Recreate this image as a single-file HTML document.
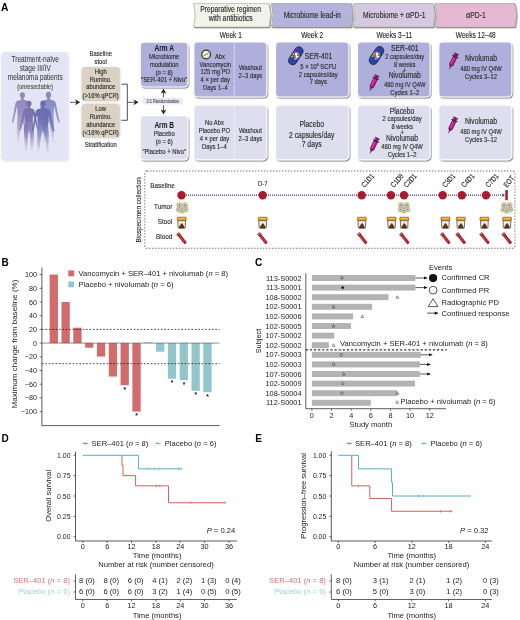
<!DOCTYPE html>
<html lang="en"><head><meta charset="utf-8"><title>Figure</title>
<style>html,body{margin:0;padding:0;background:#fff}svg{display:block}</style></head>
<body>
<svg width="520" height="620" viewBox="0 0 520 620" font-family='"Liberation Sans", Arial, Helvetica, sans-serif'>
<defs>
<filter id="sh" x="-10%" y="-15%" width="125%" height="140%"><feDropShadow dx="0.8" dy="1.1" stdDeviation="0.55" flood-color="#5a5548" flood-opacity="0.7" result="a"/><feDropShadow in="SourceGraphic" dx="0" dy="0" stdDeviation="0.7" flood-color="#5a5548" flood-opacity="0.4" result="b"/><feMerge><feMergeNode in="b"/><feMergeNode in="a"/></feMerge></filter>
<filter id="sh2" x="-10%" y="-10%" width="125%" height="130%"><feDropShadow dx="0.3" dy="0.5" stdDeviation="0.8" flood-color="#8888aa" flood-opacity="0.35"/></filter>
<linearGradient id="fade" x1="0" y1="0" x2="0" y2="1"><stop offset="0" stop-color="#fff" stop-opacity="1"/><stop offset="0.3" stop-color="#fff" stop-opacity="0.95"/><stop offset="0.6" stop-color="#fff" stop-opacity="0.7"/><stop offset="0.93" stop-color="#fff" stop-opacity="0"/></linearGradient>
<mask id="fm" maskUnits="userSpaceOnUse" x="0" y="85" width="75" height="80"><rect x="0" y="85" width="75" height="75" fill="url(#fade)"/></mask>
<marker id="ah" viewBox="0 0 10 10" refX="9" refY="5" markerUnits="userSpaceOnUse" markerWidth="5.2" markerHeight="6.0" orient="auto" preserveAspectRatio="none"><path d="M0,0 L10,5 L0,10 L3.2,5 Z" fill="#222"/></marker>
<marker id="ah2" viewBox="0 0 10 10" refX="9.5" refY="5" markerUnits="userSpaceOnUse" markerWidth="4.0" markerHeight="3.5" orient="auto"><path d="M0,0.5 L10,5 L0,9.5 Z" fill="#111"/></marker>
<linearGradient id="pg0" gradientUnits="userSpaceOnUse" x1="0" y1="0" x2="0" y2="54"><stop offset="0" stop-color="#9189bb" stop-opacity="1"/><stop offset="0.33" stop-color="#9189bb" stop-opacity="0.95"/><stop offset="0.62" stop-color="#9189bb" stop-opacity="0.68"/><stop offset="0.97" stop-color="#9189bb" stop-opacity="0"/></linearGradient>
<linearGradient id="pg1" gradientUnits="userSpaceOnUse" x1="0" y1="0" x2="0" y2="54"><stop offset="0" stop-color="#858cc0" stop-opacity="1"/><stop offset="0.33" stop-color="#858cc0" stop-opacity="0.95"/><stop offset="0.62" stop-color="#858cc0" stop-opacity="0.68"/><stop offset="0.97" stop-color="#858cc0" stop-opacity="0"/></linearGradient>
<linearGradient id="pg2" gradientUnits="userSpaceOnUse" x1="0" y1="0" x2="0" y2="54"><stop offset="0" stop-color="#7d6fab" stop-opacity="1"/><stop offset="0.33" stop-color="#7d6fab" stop-opacity="0.95"/><stop offset="0.62" stop-color="#7d6fab" stop-opacity="0.68"/><stop offset="0.97" stop-color="#7d6fab" stop-opacity="0"/></linearGradient>
<linearGradient id="pg3" gradientUnits="userSpaceOnUse" x1="0" y1="0" x2="0" y2="54"><stop offset="0" stop-color="#676db0" stop-opacity="1"/><stop offset="0.33" stop-color="#676db0" stop-opacity="0.95"/><stop offset="0.62" stop-color="#676db0" stop-opacity="0.68"/><stop offset="0.97" stop-color="#676db0" stop-opacity="0"/></linearGradient>
<!-- person silhouette: origin at top-centre of head, height ~56 -->
<g id="man"><ellipse cx="0" cy="3.1" rx="2.65" ry="3.15"/><path d="M1.20,5.60 L1.40,7.60 C3.50,8.20 6.20,8.40 7.00,10.40 C7.80,13.00 8.40,17.00 9.00,20.50 L10.60,27.50 L11.40,30.60 L10.00,31.30 L8.80,28.00 C7.80,24.00 6.80,19.00 6.00,15.20 L5.50,15.40 C5.30,20.00 4.90,23.00 5.20,27.00 C5.90,33.00 5.70,40.00 5.40,46.00 L6.00,53.00 L3.50,54.00 L3.20,46.00 C2.60,40.00 1.60,34.00 0.40,30.50 L0.00,30.50 L-0.40,30.50 C-1.60,34.00 -2.60,40.00 -3.20,46.00 L-3.50,54.00 L-6.00,53.00 L-5.40,46.00 C-5.70,40.00 -5.90,33.00 -5.20,27.00 C-4.90,23.00 -5.30,20.00 -5.50,15.40 L-6.00,15.20 C-6.80,19.00 -7.80,24.00 -8.80,28.00 L-10.00,31.30 L-11.40,30.60 L-10.60,27.50 L-9.00,20.50 C-8.40,17.00 -7.80,13.00 -7.00,10.40 C-6.20,8.40 -3.50,8.20 -1.40,7.60 L-1.20,5.60 Z"/></g>
<g id="woman"><ellipse cx="0" cy="3.1" rx="2.55" ry="3.05"/><path d="M1.00,5.60 L1.20,7.40 C2.80,8.00 4.80,8.20 5.50,10.00 C6.20,13.00 6.80,16.50 7.40,19.50 L9.00,26.00 L9.80,29.20 L8.50,29.80 L7.30,26.50 C6.30,22.50 5.40,18.50 4.70,15.00 L4.20,15.20 C3.90,18.00 3.30,19.50 3.60,22.00 C4.60,25.00 5.20,27.00 5.10,30.00 C5.00,36.00 4.40,42.00 3.90,47.00 L4.10,53.00 L1.90,54.00 L1.80,47.00 C1.50,41.00 1.00,35.00 0.30,31.00 L0.00,31.00 L-0.30,31.00 C-1.00,35.00 -1.50,41.00 -1.80,47.00 L-1.90,54.00 L-4.10,53.00 L-3.90,47.00 C-4.40,42.00 -5.00,36.00 -5.10,30.00 C-5.20,27.00 -4.60,25.00 -3.60,22.00 C-3.30,19.50 -3.90,18.00 -4.20,15.20 L-4.70,15.00 C-5.40,18.50 -6.30,22.50 -7.30,26.50 L-8.50,29.80 L-9.80,29.20 L-9.00,26.00 L-7.40,19.50 C-6.80,16.50 -6.20,13.00 -5.50,10.00 C-4.80,8.20 -2.80,8.00 -1.20,7.40 L-1.00,5.60 Z"/></g>
<!-- capsule icon centred at 0,0 -->
<clipPath id="capclip"><rect x="-9.9" y="-4.2" width="19.8" height="8.4" rx="4.2"/></clipPath>
<g id="cap"><g transform="rotate(-57)"><rect x="-9.9" y="-4.2" width="19.8" height="8.4" rx="4.2" fill="#2e42a2"/><g clip-path="url(#capclip)"><rect x="-3.9" y="-4.2" width="7.8" height="8.4" fill="#27306e"/><circle cx="-2.6" cy="-2.9" r="1.2" fill="#62d24a"/><circle cx="0.1" cy="-3.2" r="1.0" fill="#f0dc50"/><circle cx="2.6" cy="-2.7" r="1.2" fill="#e238b4"/><circle cx="-1.3" cy="-0.8" r="1.3" fill="#e238b4"/><circle cx="1.5" cy="-0.6" r="1.4" fill="#f6f6ff"/><circle cx="-3.0" cy="1.0" r="1.1" fill="#55c8f0"/><circle cx="-0.4" cy="1.6" r="1.4" fill="#f6f6ff"/><circle cx="2.6" cy="1.6" r="1.1" fill="#62d24a"/><circle cx="-2.2" cy="3.2" r="1.0" fill="#e238b4"/><circle cx="1.0" cy="3.4" r="1.0" fill="#55c8f0"/><circle cx="3.2" cy="-0.4" r="0.8" fill="#f0dc50"/><circle cx="0.3" cy="0.4" r="0.7" fill="#fff"/><path d="M-8.5,-2.9 Q-5,-4.2 -3.9,-3.9 M3.9,-3.9 Q6,-4.1 8.3,-2.8" stroke="#5a6cc8" stroke-width="0.8" fill="none"/></g><rect x="-9.9" y="-4.2" width="19.8" height="8.4" rx="4.2" fill="none" stroke="#1b1e44" stroke-width="0.8"/></g></g>
<!-- syringe icon centred at 0,0, needle toward lower-left -->
<g id="syr"><g transform="rotate(-64.5)"><line x1="-6" y1="0" x2="-9.2" y2="0" stroke="#2a2030" stroke-width="0.6"/><path d="M-4.8,-1.2 L-6.6,-0.5 L-6.6,0.5 L-4.8,1.2 Z" fill="#b0157e" stroke="#3a0a2c" stroke-width="0.4"/><rect x="-4.9" y="-1.85" width="9.4" height="3.7" rx="0.7" fill="#c8178f" stroke="#3c0c30" stroke-width="0.65"/><line x1="-3.4" y1="-0.7" x2="3.4" y2="-0.7" stroke="#ee55c4" stroke-width="0.7"/><rect x="4.4" y="-2.8" width="1.2" height="5.6" rx="0.3" fill="#8a0f62" stroke="#3a0a2c" stroke-width="0.45"/><rect x="5.6" y="-0.9" width="1.5" height="1.8" fill="#a8127a" stroke="#3a0a2c" stroke-width="0.4"/><rect x="7.0" y="-2.3" width="1.1" height="4.6" rx="0.3" fill="#8a0f62" stroke="#3a0a2c" stroke-width="0.4"/></g></g>
<!-- abx pill -->
<g id="abx"><ellipse cx="0" cy="0" rx="4.4" ry="4.4" fill="#dfe9cb" stroke="#34342a" stroke-width="1.2"/><ellipse cx="-0.2" cy="-0.4" rx="2.9" ry="2.7" fill="#eef4e2"/><line x1="-2.4" y1="1.2" x2="2.4" y2="-1.2" stroke="#858f74" stroke-width="1.1"/></g>
<!-- tumor cluster -->
<g id="tum"><g stroke="#d09840" stroke-width="0.8" fill="#f4dcaa"><circle cx="-2.9" cy="-2.5" r="2.5"/><circle cx="2.7" cy="-2.5" r="2.5"/><circle cx="-3.6" cy="1.9" r="2.3"/><circle cx="3.6" cy="1.8" r="2.3"/><circle cx="-0.1" cy="3.0" r="2.5"/></g><g fill="#4397e6" stroke="#b5d6f2" stroke-width="0.5"><circle cx="-2.9" cy="-2.5" r="1.25"/><circle cx="2.7" cy="-2.5" r="1.25"/><circle cx="-3.6" cy="1.9" r="1.1"/><circle cx="3.6" cy="1.8" r="1.1"/><circle cx="-0.1" cy="3.0" r="1.2"/><circle cx="0" cy="-0.3" r="0.6"/></g></g>
<!-- stool jar -->
<g id="sto"><path d="M-3.9,-2.4 L3.9,-2.4 L3.6,4.6 Q3.5,5.6 2.4,5.6 L-2.4,5.6 Q-3.5,5.6 -3.6,4.6 Z" fill="#efeee8" stroke="#453a2a" stroke-width="0.7"/><path d="M-2.9,5.1 C-2.7,3.4 -1.7,2.9 -1.1,1.7 C-0.4,0.4 0.6,0.2 1,1.2 C1.6,2.4 2.7,3.3 2.9,5.1 Z" fill="#5b3413"/><rect x="-4.45" y="-5.6" width="8.9" height="3.5" rx="0.9" fill="#e9a227" stroke="#5e3d0e" stroke-width="0.6"/><line x1="-3.1" y1="-4.5" x2="3.1" y2="-4.5" stroke="#f7cf77" stroke-width="0.7"/></g>
<!-- blood tube -->
<g id="blo"><g transform="rotate(-38.5)"><rect x="-1.25" y="-5.6" width="2.5" height="11.8" rx="1.2" fill="#c01a2b" stroke="#5a0a12" stroke-width="0.55"/><rect x="-1.6" y="-6.5" width="3.2" height="2.3" rx="0.5" fill="#e2533a" stroke="#5a0a12" stroke-width="0.45"/><line x1="-0.35" y1="-3" x2="-0.35" y2="4" stroke="#ee8080" stroke-width="0.45"/></g></g>
</defs>
<rect width="520" height="620" fill="#fff"/>
<text transform="translate(1.00,11.20)" font-size="10.3" text-anchor="start" fill="#000" font-weight="bold">A</text>
<rect x="1.5" y="52.3" width="66.7" height="108.1" rx="3.2" fill="#e4e4f4" filter="url(#sh2)"/>
<text transform="translate(35.20,62.00) scale(0.775,1)" font-size="8.4" text-anchor="middle" fill="#2e2e2e" stroke="none">Treatment-naïve</text>
<text transform="translate(35.20,71.00) scale(0.775,1)" font-size="8.4" text-anchor="middle" fill="#2e2e2e" stroke="none">stage III/IV</text>
<text transform="translate(35.20,80.10) scale(0.775,1)" font-size="8.4" text-anchor="middle" fill="#2e2e2e" stroke="none">melanoma patients</text>
<text transform="translate(35.20,88.50) scale(0.8,1)" font-size="7" text-anchor="middle" fill="#4a4a4a" stroke="#4a4a4a" stroke-width="0.12">(unresectable)</text>
<g>
<use href="#man" transform="translate(22.4,92.3) scale(0.95,0.99)" fill="url(#pg0)"/>
<use href="#man" transform="translate(48.5,91.8) scale(1.0,1.0)" fill="url(#pg1)"/>
<use href="#woman" transform="translate(29.0,100.6) scale(1.0,1.0)" fill="url(#pg2)"/>
<use href="#man" transform="translate(43.0,100.6) scale(1.02,1.0)" fill="url(#pg3)"/>
</g>
<line x1="70.00" y1="102.30" x2="79.60" y2="102.30" stroke="#222" stroke-width="0.75" marker-end="url(#ah)"/>
<text transform="translate(100.70,55.90) scale(0.8,1)" font-size="7.3" text-anchor="middle" fill="#262626" stroke="#262626" stroke-width="0.12">Baseline</text>
<text transform="translate(100.70,63.80) scale(0.8,1)" font-size="7.3" text-anchor="middle" fill="#262626" stroke="#262626" stroke-width="0.12">stool</text>
<rect x="81.5" y="66.9" width="38.4" height="34.2" rx="3.6" fill="#dbd2c4" filter="url(#sh2)"/>
<rect x="81.5" y="103.8" width="38.4" height="34.0" rx="3.6" fill="#dbd2c4" filter="url(#sh2)"/>
<text transform="translate(100.70,73.90) scale(0.8,1)" font-size="7.3" text-anchor="middle" fill="#262626" stroke="#262626" stroke-width="0.12">High</text>
<text transform="translate(100.70,81.70) scale(0.8,1)" font-size="7.3" text-anchor="middle" fill="#262626" stroke="#262626" stroke-width="0.12">Rumino.</text>
<text transform="translate(100.70,89.40) scale(0.8,1)" font-size="7.3" text-anchor="middle" fill="#262626" stroke="#262626" stroke-width="0.12">abundance</text>
<text transform="translate(100.70,97.60) scale(0.8,1)" font-size="7.3" text-anchor="middle" fill="#262626" stroke="#262626" stroke-width="0.12">(&gt;16% qPCR)</text>
<text transform="translate(100.70,110.90) scale(0.8,1)" font-size="7.3" text-anchor="middle" fill="#262626" stroke="#262626" stroke-width="0.12">Low</text>
<text transform="translate(100.70,118.60) scale(0.8,1)" font-size="7.3" text-anchor="middle" fill="#262626" stroke="#262626" stroke-width="0.12">Rumino.</text>
<text transform="translate(100.70,126.80) scale(0.8,1)" font-size="7.3" text-anchor="middle" fill="#262626" stroke="#262626" stroke-width="0.12">abundance</text>
<text transform="translate(100.70,134.90) scale(0.8,1)" font-size="7.3" text-anchor="middle" fill="#262626" stroke="#262626" stroke-width="0.12">(&lt;16% qPCR)</text>
<text transform="translate(100.70,146.60) scale(0.8,1)" font-size="7.3" text-anchor="middle" fill="#262626" stroke="#262626" stroke-width="0.12">Stratification</text>
<path d="M121.5,84.2 H127.3 V120.3 H121.5" fill="none" stroke="#222" stroke-width="0.8"/>
<line x1="127.30" y1="102.30" x2="138.00" y2="102.30" stroke="#222" stroke-width="0.75" marker-end="url(#ah)"/>
<rect x="139.80" y="41.60" width="48.70" height="45.90" rx="4.5" fill="#fff" filter="url(#sh)"/>
<rect x="140.90" y="42.70" width="46.50" height="43.70" rx="3.4" fill="#afafdb"/>
<rect x="139.80" y="115.10" width="48.70" height="45.50" rx="4.5" fill="#fff" filter="url(#sh)"/>
<rect x="140.90" y="116.20" width="46.50" height="43.30" rx="3.4" fill="#dedeee"/>
<text transform="translate(164.20,51.20) scale(0.77,1)" font-size="8.5" text-anchor="middle" fill="#111" font-weight="bold">Arm A</text>
<text transform="translate(164.20,59.20) scale(0.8,1)" font-size="7.3" text-anchor="middle" fill="#262626" stroke="#262626" stroke-width="0.12">Microbiome</text>
<text transform="translate(164.20,66.90) scale(0.8,1)" font-size="7.3" text-anchor="middle" fill="#262626" stroke="#262626" stroke-width="0.12">modulation</text>
<text transform="translate(164.20,74.60) scale(0.8,1)" font-size="7.3" text-anchor="middle" fill="#262626" stroke="#262626" stroke-width="0.12">(<tspan font-style="italic">n</tspan> = 8)</text>
<text transform="translate(164.20,82.30) scale(0.8,1)" font-size="7.3" text-anchor="middle" fill="#262626" stroke="#262626" stroke-width="0.12">"SER-401 + Nivo"</text>
<text transform="translate(164.20,128.10) scale(0.77,1)" font-size="8.5" text-anchor="middle" fill="#111" font-weight="bold">Arm B</text>
<text transform="translate(164.20,136.10) scale(0.8,1)" font-size="7.3" text-anchor="middle" fill="#262626" stroke="#262626" stroke-width="0.12">Placebo</text>
<text transform="translate(164.20,144.20) scale(0.8,1)" font-size="7.3" text-anchor="middle" fill="#262626" stroke="#262626" stroke-width="0.12">(<tspan font-style="italic">n</tspan> = 6)</text>
<text transform="translate(164.20,153.80) scale(0.8,1)" font-size="7.3" text-anchor="middle" fill="#262626" stroke="#262626" stroke-width="0.12">"Placebo + Nivo"</text>
<rect x="142.6" y="97.8" width="40.4" height="6.8" rx="3.4" fill="#e8e8f6"/>
<text transform="translate(162.80,103.40) scale(0.82,1)" font-size="4.8" text-anchor="middle" fill="#555" stroke="#555" stroke-width="0.12">2:1 Randomization</text>
<line x1="163.50" y1="97.30" x2="163.50" y2="89.20" stroke="#222" stroke-width="0.75" marker-end="url(#ah)"/>
<line x1="163.50" y1="105.40" x2="163.50" y2="114.00" stroke="#222" stroke-width="0.75" marker-end="url(#ah)"/>
<path d="M193.80,3.60 L269.00,3.60 L270.60,15.30 L269.00,27.00 L193.80,27.00 L195.40,15.30 Z" fill="#f0f3ea" stroke="#b3b0a6" stroke-width="0.5" stroke-linejoin="round" filter="url(#sh)"/>
<path d="M271.50,3.60 L351.20,3.60 L352.80,15.30 L351.20,27.00 L271.50,27.00 L273.10,15.30 Z" fill="#b3b3dc" stroke="#b3b0a6" stroke-width="0.5" stroke-linejoin="round" filter="url(#sh)"/>
<path d="M353.50,3.60 L433.50,3.60 L435.10,15.30 L433.50,27.00 L353.50,27.00 L355.10,15.30 Z" fill="#d5c9e2" stroke="#b3b0a6" stroke-width="0.5" stroke-linejoin="round" filter="url(#sh)"/>
<path d="M435.50,3.60 L515.00,3.60 L516.60,15.30 L515.00,27.00 L435.50,27.00 L437.10,15.30 Z" fill="#e5b9d3" stroke="#b3b0a6" stroke-width="0.5" stroke-linejoin="round" filter="url(#sh)"/>
<text transform="translate(230.70,12.20) scale(0.815,1)" font-size="8.3" text-anchor="middle" fill="#262626" stroke="#262626" stroke-width="0.12">Preparative regimen</text>
<text transform="translate(230.70,21.20) scale(0.815,1)" font-size="8.3" text-anchor="middle" fill="#262626" stroke="#262626" stroke-width="0.12">with antibiotics</text>
<text transform="translate(312.20,17.70) scale(0.815,1)" font-size="8.3" text-anchor="middle" fill="#262626" stroke="#262626" stroke-width="0.12">Microbiome lead-in</text>
<text transform="translate(394.30,17.70) scale(0.815,1)" font-size="8.3" text-anchor="middle" fill="#262626" stroke="#262626" stroke-width="0.12">Microbiome + <tspan font-family="'Liberation Serif','DejaVu Serif',serif" font-size="10.2">α</tspan>PD-1</text>
<text transform="translate(475.80,17.70) scale(0.815,1)" font-size="8.3" text-anchor="middle" fill="#262626" stroke="#262626" stroke-width="0.12"><tspan font-family="'Liberation Serif','DejaVu Serif',serif" font-size="10.2">α</tspan>PD-1</text>
<text transform="translate(230.80,37.90) scale(0.8,1)" font-size="8.2" text-anchor="middle" fill="#262626" stroke="#262626" stroke-width="0.12">Week 1</text>
<text transform="translate(312.20,37.90) scale(0.8,1)" font-size="8.2" text-anchor="middle" fill="#262626" stroke="#262626" stroke-width="0.12">Week 2</text>
<text transform="translate(394.30,37.90) scale(0.8,1)" font-size="8.2" text-anchor="middle" fill="#262626" stroke="#262626" stroke-width="0.12">Weeks 3–11</text>
<text transform="translate(475.80,37.90) scale(0.8,1)" font-size="8.2" text-anchor="middle" fill="#262626" stroke="#262626" stroke-width="0.12">Weeks 12–48</text>
<rect x="193.30" y="41.40" width="74.10" height="56.10" rx="4.5" fill="#fff" filter="url(#sh)"/>
<rect x="194.40" y="42.50" width="71.90" height="53.90" rx="3.4" fill="#afafdb"/>
<rect x="193.30" y="104.60" width="74.10" height="55.80" rx="4.5" fill="#fff" filter="url(#sh)"/>
<rect x="194.40" y="105.70" width="71.90" height="53.60" rx="3.4" fill="#dedeee"/>
<rect x="275.00" y="41.40" width="74.50" height="56.10" rx="4.5" fill="#fff" filter="url(#sh)"/>
<rect x="276.10" y="42.50" width="72.30" height="53.90" rx="3.4" fill="#afafdb"/>
<rect x="275.00" y="104.60" width="74.50" height="55.80" rx="4.5" fill="#fff" filter="url(#sh)"/>
<rect x="276.10" y="105.70" width="72.30" height="53.60" rx="3.4" fill="#dedeee"/>
<rect x="356.90" y="41.40" width="73.80" height="56.10" rx="4.5" fill="#fff" filter="url(#sh)"/>
<rect x="358.00" y="42.50" width="71.60" height="53.90" rx="3.4" fill="#afafdb"/>
<rect x="356.90" y="104.60" width="73.80" height="55.80" rx="4.5" fill="#fff" filter="url(#sh)"/>
<rect x="358.00" y="105.70" width="71.60" height="53.60" rx="3.4" fill="#dedeee"/>
<rect x="438.30" y="41.40" width="74.10" height="56.10" rx="4.5" fill="#fff" filter="url(#sh)"/>
<rect x="439.40" y="42.50" width="71.90" height="53.90" rx="3.4" fill="#afafdb"/>
<rect x="438.30" y="104.60" width="74.10" height="55.80" rx="4.5" fill="#fff" filter="url(#sh)"/>
<rect x="439.40" y="105.70" width="71.90" height="53.60" rx="3.4" fill="#dedeee"/>
<line x1="234.3" y1="42.5" x2="234.3" y2="96.4" stroke="#fff" stroke-width="0.9" stroke-dasharray="1.1,1.1"/>
<line x1="234.3" y1="105.7" x2="234.3" y2="159.3" stroke="#fff" stroke-width="0.9" stroke-dasharray="1.1,1.1"/>
<use href="#abx" x="206.1" y="54.5"/>
<text transform="translate(220.00,58.70) scale(0.8,1)" font-size="7.3" text-anchor="middle" fill="#262626" stroke="#262626" stroke-width="0.12">Abx</text>
<text transform="translate(215.30,66.50) scale(0.8,1)" font-size="7.3" text-anchor="middle" fill="#262626" stroke="#262626" stroke-width="0.12">Vancomycin</text>
<text transform="translate(215.30,74.40) scale(0.8,1)" font-size="7.3" text-anchor="middle" fill="#262626" stroke="#262626" stroke-width="0.12">125 mg PO</text>
<text transform="translate(215.30,82.20) scale(0.8,1)" font-size="7.3" text-anchor="middle" fill="#262626" stroke="#262626" stroke-width="0.12">4 × per day</text>
<text transform="translate(215.30,90.00) scale(0.8,1)" font-size="7.3" text-anchor="middle" fill="#262626" stroke="#262626" stroke-width="0.12">Days 1–4</text>
<text transform="translate(250.40,69.60) scale(0.8,1)" font-size="7.3" text-anchor="middle" fill="#262626" stroke="#262626" stroke-width="0.12">Washout</text>
<text transform="translate(250.40,77.70) scale(0.8,1)" font-size="7.3" text-anchor="middle" fill="#262626" stroke="#262626" stroke-width="0.12">2–3 days</text>
<text transform="translate(214.40,124.80) scale(0.8,1)" font-size="7.3" text-anchor="middle" fill="#262626" stroke="#262626" stroke-width="0.12">No Abx</text>
<text transform="translate(214.40,133.10) scale(0.8,1)" font-size="7.3" text-anchor="middle" fill="#262626" stroke="#262626" stroke-width="0.12">Placebo PO</text>
<text transform="translate(214.40,140.70) scale(0.8,1)" font-size="7.3" text-anchor="middle" fill="#262626" stroke="#262626" stroke-width="0.12">4 × per day</text>
<text transform="translate(214.40,148.50) scale(0.8,1)" font-size="7.3" text-anchor="middle" fill="#262626" stroke="#262626" stroke-width="0.12">Days 1–4</text>
<text transform="translate(250.40,133.10) scale(0.8,1)" font-size="7.3" text-anchor="middle" fill="#262626" stroke="#262626" stroke-width="0.12">Washout</text>
<text transform="translate(250.40,140.70) scale(0.8,1)" font-size="7.3" text-anchor="middle" fill="#262626" stroke="#262626" stroke-width="0.12">2–3 days</text>
<use href="#cap" x="295.8" y="55.8"/>
<text transform="translate(318.60,58.70) scale(0.8,1)" font-size="8.5" text-anchor="middle" fill="#262626" stroke="#262626" stroke-width="0.12">SER-401</text>
<text transform="translate(318.30,68.70) scale(0.8,1)" font-size="7.3" text-anchor="middle" fill="#262626" stroke="#262626" stroke-width="0.12">5 × 10<tspan font-size="4.4" dy="-2.8">6</tspan><tspan dy="2.8"> SCFU</tspan></text>
<text transform="translate(318.30,76.50) scale(0.8,1)" font-size="7.3" text-anchor="middle" fill="#262626" stroke="#262626" stroke-width="0.12">2 capsules/day</text>
<text transform="translate(318.30,84.00) scale(0.8,1)" font-size="7.3" text-anchor="middle" fill="#262626" stroke="#262626" stroke-width="0.12">7 days</text>
<text transform="translate(311.70,126.90) scale(0.8,1)" font-size="8.5" text-anchor="middle" fill="#262626" stroke="#262626" stroke-width="0.12">Placebo</text>
<text transform="translate(311.70,138.10) scale(0.8,1)" font-size="8.5" text-anchor="middle" fill="#262626" stroke="#262626" stroke-width="0.12">2 capsules/day</text>
<text transform="translate(311.70,147.30) scale(0.8,1)" font-size="8.5" text-anchor="middle" fill="#262626" stroke="#262626" stroke-width="0.12">7 days</text>
<use href="#cap" x="376.5" y="55.5"/>
<use href="#syr" x="373.6" y="82.8"/>
<text transform="translate(404.70,51.10) scale(0.8,1)" font-size="8.5" text-anchor="middle" fill="#262626" stroke="#262626" stroke-width="0.12">SER-401</text>
<text transform="translate(404.70,58.90) scale(0.8,1)" font-size="7.3" text-anchor="middle" fill="#262626" stroke="#262626" stroke-width="0.12">2 capsules/day</text>
<text transform="translate(404.70,66.70) scale(0.8,1)" font-size="7.3" text-anchor="middle" fill="#262626" stroke="#262626" stroke-width="0.12">8 weeks</text>
<text transform="translate(404.70,73.30) scale(0.8,1)" font-size="7.3" text-anchor="middle" fill="#262626" stroke="#262626" stroke-width="0.12">+</text>
<text transform="translate(404.70,78.30) scale(0.8,1)" font-size="8.5" text-anchor="middle" fill="#262626" stroke="#262626" stroke-width="0.12">Nivolumab</text>
<text transform="translate(404.70,86.90) scale(0.8,1)" font-size="7.3" text-anchor="middle" fill="#262626" stroke="#262626" stroke-width="0.12">480 mg IV Q4W</text>
<text transform="translate(404.70,95.00) scale(0.8,1)" font-size="7.3" text-anchor="middle" fill="#262626" stroke="#262626" stroke-width="0.12">Cycles 1–2</text>
<use href="#syr" x="373.9" y="145.3"/>
<text transform="translate(402.10,113.90) scale(0.8,1)" font-size="8.5" text-anchor="middle" fill="#262626" stroke="#262626" stroke-width="0.12">Placebo</text>
<text transform="translate(402.10,121.40) scale(0.8,1)" font-size="7.3" text-anchor="middle" fill="#262626" stroke="#262626" stroke-width="0.12">2 capsules/day</text>
<text transform="translate(402.10,128.80) scale(0.8,1)" font-size="7.3" text-anchor="middle" fill="#262626" stroke="#262626" stroke-width="0.12">8 weeks</text>
<text transform="translate(402.10,135.20) scale(0.8,1)" font-size="7.3" text-anchor="middle" fill="#262626" stroke="#262626" stroke-width="0.12">+</text>
<text transform="translate(402.10,141.20) scale(0.8,1)" font-size="8.5" text-anchor="middle" fill="#262626" stroke="#262626" stroke-width="0.12">Nivolumab</text>
<text transform="translate(402.10,149.00) scale(0.8,1)" font-size="7.3" text-anchor="middle" fill="#262626" stroke="#262626" stroke-width="0.12">480 mg IV Q4W</text>
<text transform="translate(402.10,157.20) scale(0.8,1)" font-size="7.3" text-anchor="middle" fill="#262626" stroke="#262626" stroke-width="0.12">Cycles 1–2</text>
<use href="#syr" x="453.1" y="61.0"/>
<text transform="translate(481.00,61.00) scale(0.8,1)" font-size="8.5" text-anchor="middle" fill="#262626" stroke="#262626" stroke-width="0.12">Nivolumab</text>
<text transform="translate(481.00,71.00) scale(0.8,1)" font-size="7.3" text-anchor="middle" fill="#262626" stroke="#262626" stroke-width="0.12">480 mg IV Q4W</text>
<text transform="translate(481.00,78.60) scale(0.8,1)" font-size="7.3" text-anchor="middle" fill="#262626" stroke="#262626" stroke-width="0.12">Cycles 3–12</text>
<use href="#syr" x="452.3" y="125.0"/>
<text transform="translate(481.00,123.90) scale(0.8,1)" font-size="8.5" text-anchor="middle" fill="#262626" stroke="#262626" stroke-width="0.12">Nivolumab</text>
<text transform="translate(481.00,134.30) scale(0.8,1)" font-size="7.3" text-anchor="middle" fill="#262626" stroke="#262626" stroke-width="0.12">480 mg IV Q4W</text>
<text transform="translate(481.00,142.10) scale(0.8,1)" font-size="7.3" text-anchor="middle" fill="#262626" stroke="#262626" stroke-width="0.12">Cycles 3–12</text>
<rect x="144.8" y="171.05" width="370.1" height="77.2" rx="2.2" fill="none" stroke="#6c6c6c" stroke-width="1.05" stroke-dasharray="1.4,1.6"/>
<text transform="translate(141.00,210.00) rotate(-90) scale(0.8,1)" font-size="8" text-anchor="middle" fill="#262626" stroke="#262626" stroke-width="0.12">Biospecimen collection</text>
<text transform="translate(150.20,187.50) scale(0.8,1)" font-size="8" text-anchor="start" fill="#262626" stroke="#262626" stroke-width="0.12">Baseline</text>
<text transform="translate(172.30,209.20) scale(0.8,1)" font-size="8" text-anchor="end" fill="#262626" stroke="#262626" stroke-width="0.12">Tumor</text>
<text transform="translate(172.30,224.10) scale(0.8,1)" font-size="8" text-anchor="end" fill="#262626" stroke="#262626" stroke-width="0.12">Stool</text>
<text transform="translate(172.30,239.40) scale(0.8,1)" font-size="8" text-anchor="end" fill="#262626" stroke="#262626" stroke-width="0.12">Blood</text>
<line x1="186" y1="195.2" x2="502.6" y2="195.2" stroke="#2b3a9c" stroke-width="1.3" stroke-dasharray="1.0,1.0"/>
<path d="M501.8,193.2 L505,195.2 L501.8,197.2 L502.8,195.2 Z" fill="#2b3a9c"/>
<circle cx="181.5" cy="195.2" r="4.2" fill="#a91b2f"/>
<circle cx="262.7" cy="195.2" r="4.2" fill="#a91b2f"/>
<text transform="translate(262.70,186.20) scale(0.8,1)" font-size="7.3" text-anchor="middle" fill="#262626" stroke="#262626" stroke-width="0.12">D-7</text>
<circle cx="361.7" cy="195.2" r="4.2" fill="#a91b2f"/>
<text transform="translate(364.40,188.00) rotate(-48) scale(0.8,1)" font-size="7.6" text-anchor="start" fill="#262626" stroke="#262626" stroke-width="0.12">C1D1</text>
<circle cx="391.0" cy="195.2" r="4.2" fill="#a91b2f"/>
<text transform="translate(393.70,188.00) rotate(-48) scale(0.8,1)" font-size="7.6" text-anchor="start" fill="#262626" stroke="#262626" stroke-width="0.12">C1D8</text>
<circle cx="404.0" cy="195.2" r="4.2" fill="#a91b2f"/>
<text transform="translate(406.70,188.00) rotate(-48) scale(0.8,1)" font-size="7.6" text-anchor="start" fill="#262626" stroke="#262626" stroke-width="0.12">C2D1</text>
<circle cx="442.7" cy="195.2" r="4.2" fill="#a91b2f"/>
<text transform="translate(445.40,188.00) rotate(-48) scale(0.8,1)" font-size="7.6" text-anchor="start" fill="#262626" stroke="#262626" stroke-width="0.12">C3D1</text>
<circle cx="461.9" cy="195.2" r="4.2" fill="#a91b2f"/>
<text transform="translate(464.60,188.00) rotate(-48) scale(0.8,1)" font-size="7.6" text-anchor="start" fill="#262626" stroke="#262626" stroke-width="0.12">C4D1</text>
<circle cx="486.0" cy="195.2" r="4.2" fill="#a91b2f"/>
<text transform="translate(488.70,188.00) rotate(-48) scale(0.8,1)" font-size="7.6" text-anchor="start" fill="#262626" stroke="#262626" stroke-width="0.12">C7D1</text>
<text transform="translate(506.90,188.00) rotate(-50) scale(0.8,1)" font-size="7.6" text-anchor="start" fill="#262626" stroke="#262626" stroke-width="0.12">EOT</text>
<rect x="505.3" y="190" width="2.5" height="10.2" fill="#a91b2f"/>
<use href="#tum" x="182.3" y="207.7"/>
<use href="#tum" x="404.0" y="207.7"/>
<use href="#tum" x="507.0" y="207.7"/>
<use href="#sto" x="181.7" y="222.8"/>
<use href="#sto" x="262.7" y="222.8"/>
<use href="#sto" x="361.9" y="222.8"/>
<use href="#sto" x="391.6" y="222.8"/>
<use href="#sto" x="404.2" y="222.8"/>
<use href="#sto" x="445.4" y="222.8"/>
<use href="#sto" x="460.8" y="222.8"/>
<use href="#sto" x="484.4" y="222.8"/>
<use href="#sto" x="507.0" y="222.8"/>
<use href="#blo" x="181.8" y="238.5"/>
<use href="#blo" x="262.7" y="238.5"/>
<use href="#blo" x="362.5" y="238.5"/>
<use href="#blo" x="404.6" y="238.5"/>
<use href="#blo" x="445.6" y="238.5"/>
<use href="#blo" x="461.0" y="238.5"/>
<use href="#blo" x="484.8" y="238.5"/>
<use href="#blo" x="507.0" y="238.5"/>
<text transform="translate(1.60,265.60)" font-size="10" text-anchor="start" fill="#000" font-weight="bold">B</text>
<rect x="49.65" y="274.60" width="8.3" height="68.50" fill="#d26b6b"/>
<rect x="61.47" y="302.00" width="8.3" height="41.10" fill="#d26b6b"/>
<rect x="73.29" y="327.69" width="8.3" height="15.41" fill="#d26b6b"/>
<rect x="85.11" y="343.10" width="8.3" height="4.59" fill="#d26b6b"/>
<rect x="96.93" y="343.10" width="8.3" height="13.43" fill="#d26b6b"/>
<rect x="108.75" y="343.10" width="8.3" height="33.43" fill="#d26b6b"/>
<rect x="120.57" y="343.10" width="8.3" height="42.13" fill="#d26b6b"/>
<text transform="translate(124.82,391.93)" font-size="6.6" text-anchor="middle" fill="#111" font-weight="bold">*</text>
<rect x="132.39" y="343.10" width="8.3" height="68.50" fill="#d26b6b"/>
<text transform="translate(136.64,418.30)" font-size="6.6" text-anchor="middle" fill="#111" font-weight="bold">*</text>
<rect x="144.21" y="342.28" width="8.3" height="0.82" fill="#93c6cc"/>
<rect x="156.03" y="343.10" width="8.3" height="8.63" fill="#93c6cc"/>
<rect x="167.85" y="343.10" width="8.3" height="35.62" fill="#93c6cc"/>
<text transform="translate(172.10,385.42)" font-size="6.6" text-anchor="middle" fill="#111" font-weight="bold">*</text>
<rect x="179.67" y="343.10" width="8.3" height="36.99" fill="#93c6cc"/>
<text transform="translate(183.92,386.79)" font-size="6.6" text-anchor="middle" fill="#111" font-weight="bold">*</text>
<rect x="191.49" y="343.10" width="8.3" height="47.68" fill="#93c6cc"/>
<text transform="translate(195.74,397.48)" font-size="6.6" text-anchor="middle" fill="#111" font-weight="bold">*</text>
<rect x="203.31" y="343.10" width="8.3" height="49.18" fill="#93c6cc"/>
<text transform="translate(207.56,398.98)" font-size="6.6" text-anchor="middle" fill="#111" font-weight="bold">*</text>
<line x1="41.9" y1="343.1" x2="219.6" y2="343.1" stroke="#505050" stroke-width="0.65"/>
<line x1="41.9" y1="329.40" x2="219.6" y2="329.40" stroke="#222" stroke-width="0.8" stroke-dasharray="1.7,1.7"/>
<line x1="41.9" y1="363.65" x2="219.6" y2="363.65" stroke="#222" stroke-width="0.8" stroke-dasharray="1.7,1.7"/>
<path d="M41.9,267.5 V425.6 H219.6" fill="none" stroke="#333" stroke-width="0.8"/>
<line x1="39.6" y1="411.60" x2="41.9" y2="411.60" stroke="#333" stroke-width="0.7"/>
<text transform="translate(37.00,414.15)" font-size="7.2" text-anchor="end" fill="#1c1c1c">−100</text>
<line x1="39.6" y1="397.90" x2="41.9" y2="397.90" stroke="#333" stroke-width="0.7"/>
<text transform="translate(37.00,400.45)" font-size="7.2" text-anchor="end" fill="#1c1c1c">−80</text>
<line x1="39.6" y1="384.20" x2="41.9" y2="384.20" stroke="#333" stroke-width="0.7"/>
<text transform="translate(37.00,386.75)" font-size="7.2" text-anchor="end" fill="#1c1c1c">−60</text>
<line x1="39.6" y1="370.50" x2="41.9" y2="370.50" stroke="#333" stroke-width="0.7"/>
<text transform="translate(37.00,373.05)" font-size="7.2" text-anchor="end" fill="#1c1c1c">−40</text>
<line x1="39.6" y1="356.80" x2="41.9" y2="356.80" stroke="#333" stroke-width="0.7"/>
<text transform="translate(37.00,359.35)" font-size="7.2" text-anchor="end" fill="#1c1c1c">−20</text>
<line x1="39.6" y1="343.10" x2="41.9" y2="343.10" stroke="#333" stroke-width="0.7"/>
<text transform="translate(37.00,345.65)" font-size="7.2" text-anchor="end" fill="#1c1c1c">0</text>
<line x1="39.6" y1="329.40" x2="41.9" y2="329.40" stroke="#333" stroke-width="0.7"/>
<text transform="translate(37.00,331.95)" font-size="7.2" text-anchor="end" fill="#1c1c1c">20</text>
<line x1="39.6" y1="315.70" x2="41.9" y2="315.70" stroke="#333" stroke-width="0.7"/>
<text transform="translate(37.00,318.25)" font-size="7.2" text-anchor="end" fill="#1c1c1c">40</text>
<line x1="39.6" y1="302.00" x2="41.9" y2="302.00" stroke="#333" stroke-width="0.7"/>
<text transform="translate(37.00,304.55)" font-size="7.2" text-anchor="end" fill="#1c1c1c">60</text>
<line x1="39.6" y1="288.30" x2="41.9" y2="288.30" stroke="#333" stroke-width="0.7"/>
<text transform="translate(37.00,290.85)" font-size="7.2" text-anchor="end" fill="#1c1c1c">80</text>
<line x1="39.6" y1="274.60" x2="41.9" y2="274.60" stroke="#333" stroke-width="0.7"/>
<text transform="translate(37.00,277.15)" font-size="7.2" text-anchor="end" fill="#1c1c1c">100</text>
<text transform="translate(16.60,344.00) rotate(-90)" font-size="8.05" text-anchor="middle" fill="#1c1c1c">Maximum change from baseline (%)</text>
<rect x="68.3" y="270.4" width="5.8" height="5.9" fill="#d26b6b"/>
<rect x="68.3" y="281.4" width="5.8" height="5.9" fill="#93c6cc"/>
<text transform="translate(78.50,275.80)" font-size="7.6" text-anchor="start" fill="#1c1c1c">Vancomycin + SER–401 + nivolumab (<tspan font-style="italic">n</tspan> = 8)</text>
<text transform="translate(78.50,286.70)" font-size="7.6" text-anchor="start" fill="#1c1c1c">Placebo + nivolumab (<tspan font-style="italic">n</tspan> = 6)</text>
<text transform="translate(255.00,265.60)" font-size="10" text-anchor="start" fill="#000" font-weight="bold">C</text>
<rect x="311.9" y="275.00" width="103.5" height="6" fill="#b3b3b3"/>
<text transform="translate(301.60,280.60)" font-size="7.4" text-anchor="end" fill="#1c1c1c">113-S0002</text>
<rect x="311.9" y="284.60" width="103.5" height="6" fill="#b3b3b3"/>
<text transform="translate(301.60,290.20)" font-size="7.4" text-anchor="end" fill="#1c1c1c">113-S0001</text>
<rect x="311.9" y="294.20" width="76.6" height="6" fill="#b3b3b3"/>
<text transform="translate(301.60,299.80)" font-size="7.4" text-anchor="end" fill="#1c1c1c">108-S0002</text>
<rect x="311.9" y="303.80" width="60.2" height="6" fill="#b3b3b3"/>
<text transform="translate(301.60,309.40)" font-size="7.4" text-anchor="end" fill="#1c1c1c">102-S0001</text>
<rect x="311.9" y="313.40" width="41.2" height="6" fill="#b3b3b3"/>
<text transform="translate(301.60,319.00)" font-size="7.4" text-anchor="end" fill="#1c1c1c">102-S0006</text>
<rect x="311.9" y="323.00" width="39.1" height="6" fill="#b3b3b3"/>
<text transform="translate(301.60,328.60)" font-size="7.4" text-anchor="end" fill="#1c1c1c">102-S0005</text>
<rect x="311.9" y="332.60" width="22.3" height="6" fill="#b3b3b3"/>
<text transform="translate(301.60,338.20)" font-size="7.4" text-anchor="end" fill="#1c1c1c">107-S0002</text>
<rect x="311.9" y="342.20" width="16.9" height="6" fill="#b3b3b3"/>
<text transform="translate(301.60,347.80)" font-size="7.4" text-anchor="end" fill="#1c1c1c">102-S0002</text>
<rect x="311.9" y="351.80" width="108.9" height="6" fill="#b3b3b3"/>
<text transform="translate(301.60,357.40)" font-size="7.4" text-anchor="end" fill="#1c1c1c">107-S0003</text>
<rect x="311.9" y="361.40" width="107.9" height="6" fill="#b3b3b3"/>
<text transform="translate(301.60,367.00)" font-size="7.4" text-anchor="end" fill="#1c1c1c">102-S0003</text>
<rect x="311.9" y="371.00" width="107.9" height="6" fill="#b3b3b3"/>
<text transform="translate(301.60,376.60)" font-size="7.4" text-anchor="end" fill="#1c1c1c">107-S0006</text>
<rect x="311.9" y="380.60" width="103.1" height="6" fill="#b3b3b3"/>
<text transform="translate(301.60,386.20)" font-size="7.4" text-anchor="end" fill="#1c1c1c">102-S0009</text>
<rect x="311.9" y="390.20" width="85.4" height="6" fill="#b3b3b3"/>
<text transform="translate(301.60,395.80)" font-size="7.4" text-anchor="end" fill="#1c1c1c">108-S0004</text>
<rect x="311.9" y="399.80" width="58.9" height="6" fill="#b3b3b3"/>
<text transform="translate(301.60,405.40)" font-size="7.4" text-anchor="end" fill="#1c1c1c">112-S0001</text>
<circle cx="341.9" cy="278.0" r="1.3" fill="none" stroke="#333" stroke-width="0.5"/>
<circle cx="342.7" cy="287.6" r="1.2" fill="#111" stroke="#333" stroke-width="0.5"/>
<path d="M397.30,295.70 L398.73,298.32 L395.88,298.32 Z" fill="none" stroke="#333" stroke-width="0.5"/>
<path d="M333.50,305.30 L334.93,307.93 L332.07,307.93 Z" fill="none" stroke="#333" stroke-width="0.5"/>
<path d="M362.30,314.90 L363.73,317.52 L360.88,317.52 Z" fill="none" stroke="#333" stroke-width="0.5"/>
<path d="M333.50,324.50 L334.93,327.12 L332.07,327.12 Z" fill="none" stroke="#333" stroke-width="0.5"/>
<path d="M333.50,343.70 L334.93,346.32 L332.07,346.32 Z" fill="none" stroke="#333" stroke-width="0.5"/>
<circle cx="341.3" cy="354.8" r="1.3" fill="none" stroke="#333" stroke-width="0.5"/>
<circle cx="333.7" cy="364.4" r="1.3" fill="none" stroke="#333" stroke-width="0.5"/>
<path d="M343.70,372.50 L345.12,375.12 L342.27,375.12 Z" fill="none" stroke="#333" stroke-width="0.5"/>
<circle cx="342.7" cy="383.6" r="1.3" fill="none" stroke="#333" stroke-width="0.5"/>
<circle cx="341.9" cy="393.2" r="1.3" fill="none" stroke="#333" stroke-width="0.5"/>
<path d="M397.60,391.70 L399.03,394.32 L396.18,394.32 Z" fill="none" stroke="#333" stroke-width="0.5"/>
<path d="M397.10,400.70 L398.53,403.32 L395.68,403.32 Z" fill="none" stroke="#333" stroke-width="0.5"/>
<line x1="415.4" y1="278.0" x2="427.2" y2="278.0" stroke="#111" stroke-width="0.7" marker-end="url(#ah2)"/>
<line x1="415.4" y1="287.6" x2="427.2" y2="287.6" stroke="#111" stroke-width="0.7" marker-end="url(#ah2)"/>
<line x1="420.8" y1="354.8" x2="432.3" y2="354.8" stroke="#111" stroke-width="0.7" marker-end="url(#ah2)"/>
<line x1="419.8" y1="364.4" x2="430.4" y2="364.4" stroke="#111" stroke-width="0.7" marker-end="url(#ah2)"/>
<line x1="419.8" y1="374.0" x2="430.4" y2="374.0" stroke="#111" stroke-width="0.7" marker-end="url(#ah2)"/>
<line x1="305.8" y1="349.8" x2="446.7" y2="349.8" stroke="#333" stroke-width="1.15" stroke-dasharray="2.2,1.9"/>
<path d="M305.8,273.3 V408.7 H446" fill="none" stroke="#333" stroke-width="0.8"/>
<line x1="311.9" y1="408.7" x2="311.9" y2="410.8" stroke="#333" stroke-width="0.7"/>
<text transform="translate(311.90,418.10)" font-size="7.3" text-anchor="middle" fill="#1c1c1c">0</text>
<line x1="331.5" y1="408.7" x2="331.5" y2="410.8" stroke="#333" stroke-width="0.7"/>
<text transform="translate(331.54,418.10)" font-size="7.3" text-anchor="middle" fill="#1c1c1c">2</text>
<line x1="351.2" y1="408.7" x2="351.2" y2="410.8" stroke="#333" stroke-width="0.7"/>
<text transform="translate(351.18,418.10)" font-size="7.3" text-anchor="middle" fill="#1c1c1c">4</text>
<line x1="370.8" y1="408.7" x2="370.8" y2="410.8" stroke="#333" stroke-width="0.7"/>
<text transform="translate(370.82,418.10)" font-size="7.3" text-anchor="middle" fill="#1c1c1c">6</text>
<line x1="390.5" y1="408.7" x2="390.5" y2="410.8" stroke="#333" stroke-width="0.7"/>
<text transform="translate(390.46,418.10)" font-size="7.3" text-anchor="middle" fill="#1c1c1c">8</text>
<line x1="410.1" y1="408.7" x2="410.1" y2="410.8" stroke="#333" stroke-width="0.7"/>
<text transform="translate(410.10,418.10)" font-size="7.3" text-anchor="middle" fill="#1c1c1c">10</text>
<line x1="429.7" y1="408.7" x2="429.7" y2="410.8" stroke="#333" stroke-width="0.7"/>
<text transform="translate(429.74,418.10)" font-size="7.3" text-anchor="middle" fill="#1c1c1c">12</text>
<text transform="translate(370.80,426.90)" font-size="7.6" text-anchor="middle" fill="#1c1c1c">Study month</text>
<text transform="translate(260.60,341.00) rotate(-90)" font-size="7.4" text-anchor="middle" fill="#1c1c1c">Subject</text>
<text transform="translate(340.00,345.50)" font-size="7.6" text-anchor="start" fill="#1c1c1c">Vancomycin + SER-401 + nivolumab (<tspan font-style="italic">n</tspan> = 8)</text>
<text transform="translate(400.60,403.90)" font-size="7.6" text-anchor="start" fill="#1c1c1c">Placebo + nivolumab (<tspan font-style="italic">n</tspan> = 6)</text>
<text transform="translate(429.00,269.80)" font-size="7.6" text-anchor="start" fill="#1c1c1c">Events</text>
<circle cx="433.1" cy="278.1" r="4.1" fill="#111"/>
<circle cx="433.1" cy="290.2" r="3.9" fill="#fff" stroke="#111" stroke-width="0.7"/>
<path d="M433.1,298.7 L438.0,306.6 L428.2,306.6 Z" fill="#fff" stroke="#111" stroke-width="0.7"/>
<line x1="427.1" y1="313.1" x2="438.0" y2="313.1" stroke="#111" stroke-width="0.7" marker-end="url(#ah2)"/>
<text transform="translate(441.50,280.40)" font-size="7.6" text-anchor="start" fill="#1c1c1c">Confirmed CR</text>
<text transform="translate(441.50,292.50)" font-size="7.6" text-anchor="start" fill="#1c1c1c">Confirmed PR</text>
<text transform="translate(441.50,304.60)" font-size="7.6" text-anchor="start" fill="#1c1c1c">Radiographic PD</text>
<text transform="translate(441.50,315.60)" font-size="7.6" text-anchor="start" fill="#1c1c1c">Continued response</text>
<text transform="translate(1.60,441.70)" font-size="10" text-anchor="start" fill="#000" font-weight="bold">D</text>
<path d="M75.5,451.7 V541 H236.8" fill="none" stroke="#3a3a3a" stroke-width="0.85"/>
<line x1="73.5" y1="455.30" x2="75.5" y2="455.30" stroke="#333" stroke-width="0.7"/>
<text transform="translate(70.50,457.90)" font-size="6.9" text-anchor="end" fill="#1c1c1c">1.00</text>
<line x1="73.5" y1="475.65" x2="75.5" y2="475.65" stroke="#333" stroke-width="0.7"/>
<text transform="translate(70.50,478.25)" font-size="6.9" text-anchor="end" fill="#1c1c1c">0.75</text>
<line x1="73.5" y1="496.00" x2="75.5" y2="496.00" stroke="#333" stroke-width="0.7"/>
<text transform="translate(70.50,498.60)" font-size="6.9" text-anchor="end" fill="#1c1c1c">0.50</text>
<line x1="73.5" y1="516.35" x2="75.5" y2="516.35" stroke="#333" stroke-width="0.7"/>
<text transform="translate(70.50,518.95)" font-size="6.9" text-anchor="end" fill="#1c1c1c">0.25</text>
<line x1="73.5" y1="536.70" x2="75.5" y2="536.70" stroke="#333" stroke-width="0.7"/>
<text transform="translate(70.50,539.30)" font-size="6.9" text-anchor="end" fill="#1c1c1c">0.00</text>
<line x1="82.8" y1="541" x2="82.8" y2="543" stroke="#333" stroke-width="0.7"/>
<text transform="translate(82.80,549.40)" font-size="7.3" text-anchor="middle" fill="#1c1c1c">0</text>
<line x1="82.8" y1="599.5" x2="82.8" y2="601.5" stroke="#333" stroke-width="0.7"/>
<text transform="translate(82.80,608.00)" font-size="7.3" text-anchor="middle" fill="#1c1c1c">0</text>
<line x1="107.2" y1="541" x2="107.2" y2="543" stroke="#333" stroke-width="0.7"/>
<text transform="translate(107.16,549.40)" font-size="7.3" text-anchor="middle" fill="#1c1c1c">6</text>
<line x1="107.2" y1="599.5" x2="107.2" y2="601.5" stroke="#333" stroke-width="0.7"/>
<text transform="translate(107.16,608.00)" font-size="7.3" text-anchor="middle" fill="#1c1c1c">6</text>
<line x1="131.5" y1="541" x2="131.5" y2="543" stroke="#333" stroke-width="0.7"/>
<text transform="translate(131.52,549.40)" font-size="7.3" text-anchor="middle" fill="#1c1c1c">12</text>
<line x1="131.5" y1="599.5" x2="131.5" y2="601.5" stroke="#333" stroke-width="0.7"/>
<text transform="translate(131.52,608.00)" font-size="7.3" text-anchor="middle" fill="#1c1c1c">12</text>
<line x1="155.9" y1="541" x2="155.9" y2="543" stroke="#333" stroke-width="0.7"/>
<text transform="translate(155.88,549.40)" font-size="7.3" text-anchor="middle" fill="#1c1c1c">18</text>
<line x1="155.9" y1="599.5" x2="155.9" y2="601.5" stroke="#333" stroke-width="0.7"/>
<text transform="translate(155.88,608.00)" font-size="7.3" text-anchor="middle" fill="#1c1c1c">18</text>
<line x1="180.2" y1="541" x2="180.2" y2="543" stroke="#333" stroke-width="0.7"/>
<text transform="translate(180.24,549.40)" font-size="7.3" text-anchor="middle" fill="#1c1c1c">24</text>
<line x1="180.2" y1="599.5" x2="180.2" y2="601.5" stroke="#333" stroke-width="0.7"/>
<text transform="translate(180.24,608.00)" font-size="7.3" text-anchor="middle" fill="#1c1c1c">24</text>
<line x1="204.6" y1="541" x2="204.6" y2="543" stroke="#333" stroke-width="0.7"/>
<text transform="translate(204.60,549.40)" font-size="7.3" text-anchor="middle" fill="#1c1c1c">30</text>
<line x1="204.6" y1="599.5" x2="204.6" y2="601.5" stroke="#333" stroke-width="0.7"/>
<text transform="translate(204.60,608.00)" font-size="7.3" text-anchor="middle" fill="#1c1c1c">30</text>
<line x1="229.0" y1="541" x2="229.0" y2="543" stroke="#333" stroke-width="0.7"/>
<text transform="translate(228.96,549.40)" font-size="7.3" text-anchor="middle" fill="#1c1c1c">36</text>
<line x1="229.0" y1="599.5" x2="229.0" y2="601.5" stroke="#333" stroke-width="0.7"/>
<text transform="translate(228.96,608.00)" font-size="7.3" text-anchor="middle" fill="#1c1c1c">36</text>
<text transform="translate(157.10,557.90)" font-size="7.6" text-anchor="middle" fill="#1c1c1c">Time (months)</text>
<text transform="translate(157.10,617.60)" font-size="7.6" text-anchor="middle" fill="#1c1c1c">Time (months)</text>
<text transform="translate(156.00,567.00)" font-size="7.6" text-anchor="middle" fill="#1c1c1c">Number at risk (number censored)</text>
<text transform="translate(50.80,495.80) rotate(-90)" font-size="7.6" text-anchor="middle" fill="#1c1c1c">Overall survival</text>
<path d="M121.98,455.30 L121.98,465.48 L122.99,465.48 L122.99,475.65 L135.58,475.65 L135.58,485.83 L168.47,485.83 L168.47,502.78 L225.31,502.78 " fill="none" stroke="#d4605e" stroke-width="1.0" stroke-linejoin="miter"/>
<line x1="156.29" y1="484.33" x2="156.29" y2="487.33" stroke="#d4605e" stroke-width="0.6"/>
<line x1="159.94" y1="484.33" x2="159.94" y2="487.33" stroke="#d4605e" stroke-width="0.6"/>
<line x1="190.80" y1="501.28" x2="190.80" y2="504.28" stroke="#d4605e" stroke-width="0.6"/>
<line x1="225.31" y1="501.28" x2="225.31" y2="504.28" stroke="#d4605e" stroke-width="0.6"/>
<path d="M82.80,455.30 L138.42,455.30 L138.42,468.87 L181.46,468.87 " fill="none" stroke="#52b0c2" stroke-width="1.0" stroke-linejoin="miter"/>
<line x1="147.76" y1="467.37" x2="147.76" y2="470.37" stroke="#52b0c2" stroke-width="0.6"/>
<line x1="154.26" y1="467.37" x2="154.26" y2="470.37" stroke="#52b0c2" stroke-width="0.6"/>
<line x1="158.72" y1="467.37" x2="158.72" y2="470.37" stroke="#52b0c2" stroke-width="0.6"/>
<line x1="178.62" y1="467.37" x2="178.62" y2="470.37" stroke="#52b0c2" stroke-width="0.6"/>
<line x1="181.46" y1="467.37" x2="181.46" y2="470.37" stroke="#52b0c2" stroke-width="0.6"/>
<text transform="translate(235.20,533.20)" font-size="7.6" text-anchor="end" fill="#1c1c1c"><tspan font-style="italic">P</tspan> = 0.24</text>
<path d="M82.2,443.4 H88.0 M85.1,442 V444.8" stroke="#d4605e" stroke-width="0.8" fill="none"/>
<path d="M155.0,443.4 H160.8 M157.9,442 V444.8" stroke="#52b0c2" stroke-width="0.8" fill="none"/>
<text transform="translate(91.50,445.70)" font-size="7.6" text-anchor="start" fill="#1c1c1c">SER–401 (<tspan font-style="italic">n</tspan> = 8)</text>
<text transform="translate(164.70,445.70)" font-size="7.6" text-anchor="start" fill="#1c1c1c">Placebo (<tspan font-style="italic">n</tspan> = 6)</text>
<path d="M75.5,574.4 V599.5 H236.8" fill="none" stroke="#3a3a3a" stroke-width="0.8"/>
<line x1="73.5" y1="581.0" x2="75.5" y2="581.0" stroke="#333" stroke-width="0.7"/>
<line x1="73.5" y1="592.0" x2="75.5" y2="592.0" stroke="#333" stroke-width="0.7"/>
<text transform="translate(70.00,583.30)" font-size="7.6" text-anchor="end" fill="#d77472">SER–401 (<tspan font-style="italic">n</tspan> = 8)</text>
<text transform="translate(70.00,594.20)" font-size="7.6" text-anchor="end" fill="#9fd0d8">Placebo (<tspan font-style="italic">n</tspan> = 6)</text>
<text transform="translate(79.10,583.30)" font-size="7.6" text-anchor="start" fill="#1c1c1c">8 (0)</text>
<text transform="translate(103.46,583.30)" font-size="7.6" text-anchor="start" fill="#1c1c1c">8 (0)</text>
<text transform="translate(127.82,583.30)" font-size="7.6" text-anchor="start" fill="#1c1c1c">6 (0)</text>
<text transform="translate(152.18,583.30)" font-size="7.6" text-anchor="start" fill="#1c1c1c">4 (1)</text>
<text transform="translate(176.54,583.30)" font-size="7.6" text-anchor="start" fill="#1c1c1c">2 (2)</text>
<text transform="translate(200.90,583.30)" font-size="7.6" text-anchor="start" fill="#1c1c1c">1 (3)</text>
<text transform="translate(225.26,583.30)" font-size="7.6" text-anchor="start" fill="#1c1c1c">0 (4)</text>
<text transform="translate(79.10,594.20)" font-size="7.6" text-anchor="start" fill="#1c1c1c">6 (0)</text>
<text transform="translate(103.46,594.20)" font-size="7.6" text-anchor="start" fill="#1c1c1c">6 (0)</text>
<text transform="translate(127.82,594.20)" font-size="7.6" text-anchor="start" fill="#1c1c1c">6 (0)</text>
<text transform="translate(152.18,594.20)" font-size="7.6" text-anchor="start" fill="#1c1c1c">3 (2)</text>
<text transform="translate(176.54,594.20)" font-size="7.6" text-anchor="start" fill="#1c1c1c">1 (4)</text>
<text transform="translate(200.90,594.20)" font-size="7.6" text-anchor="start" fill="#1c1c1c">0 (5)</text>
<text transform="translate(225.26,594.20)" font-size="7.6" text-anchor="start" fill="#1c1c1c">0 (5)</text>
<text transform="translate(255.20,441.70)" font-size="10" text-anchor="start" fill="#000" font-weight="bold">E</text>
<path d="M331.3,451.1 V541 H491.8" fill="none" stroke="#3a3a3a" stroke-width="0.85"/>
<line x1="329.3" y1="455.30" x2="331.3" y2="455.30" stroke="#333" stroke-width="0.7"/>
<text transform="translate(326.30,457.90)" font-size="6.9" text-anchor="end" fill="#1c1c1c">1.00</text>
<line x1="329.3" y1="475.65" x2="331.3" y2="475.65" stroke="#333" stroke-width="0.7"/>
<text transform="translate(326.30,478.25)" font-size="6.9" text-anchor="end" fill="#1c1c1c">0.75</text>
<line x1="329.3" y1="496.00" x2="331.3" y2="496.00" stroke="#333" stroke-width="0.7"/>
<text transform="translate(326.30,498.60)" font-size="6.9" text-anchor="end" fill="#1c1c1c">0.50</text>
<line x1="329.3" y1="516.35" x2="331.3" y2="516.35" stroke="#333" stroke-width="0.7"/>
<text transform="translate(326.30,518.95)" font-size="6.9" text-anchor="end" fill="#1c1c1c">0.25</text>
<line x1="329.3" y1="536.70" x2="331.3" y2="536.70" stroke="#333" stroke-width="0.7"/>
<text transform="translate(326.30,539.30)" font-size="6.9" text-anchor="end" fill="#1c1c1c">0.00</text>
<line x1="338.3" y1="541" x2="338.3" y2="543" stroke="#333" stroke-width="0.7"/>
<text transform="translate(338.30,549.40)" font-size="7.3" text-anchor="middle" fill="#1c1c1c">0</text>
<line x1="338.3" y1="599.5" x2="338.3" y2="601.5" stroke="#333" stroke-width="0.7"/>
<text transform="translate(338.30,608.00)" font-size="7.3" text-anchor="middle" fill="#1c1c1c">0</text>
<line x1="375.1" y1="541" x2="375.1" y2="543" stroke="#333" stroke-width="0.7"/>
<text transform="translate(375.05,549.40)" font-size="7.3" text-anchor="middle" fill="#1c1c1c">6</text>
<line x1="375.1" y1="599.5" x2="375.1" y2="601.5" stroke="#333" stroke-width="0.7"/>
<text transform="translate(375.05,608.00)" font-size="7.3" text-anchor="middle" fill="#1c1c1c">6</text>
<line x1="411.8" y1="541" x2="411.8" y2="543" stroke="#333" stroke-width="0.7"/>
<text transform="translate(411.80,549.40)" font-size="7.3" text-anchor="middle" fill="#1c1c1c">12</text>
<line x1="411.8" y1="599.5" x2="411.8" y2="601.5" stroke="#333" stroke-width="0.7"/>
<text transform="translate(411.80,608.00)" font-size="7.3" text-anchor="middle" fill="#1c1c1c">12</text>
<line x1="448.6" y1="541" x2="448.6" y2="543" stroke="#333" stroke-width="0.7"/>
<text transform="translate(448.55,549.40)" font-size="7.3" text-anchor="middle" fill="#1c1c1c">18</text>
<line x1="448.6" y1="599.5" x2="448.6" y2="601.5" stroke="#333" stroke-width="0.7"/>
<text transform="translate(448.55,608.00)" font-size="7.3" text-anchor="middle" fill="#1c1c1c">18</text>
<line x1="485.3" y1="541" x2="485.3" y2="543" stroke="#333" stroke-width="0.7"/>
<text transform="translate(485.30,549.40)" font-size="7.3" text-anchor="middle" fill="#1c1c1c">24</text>
<line x1="485.3" y1="599.5" x2="485.3" y2="601.5" stroke="#333" stroke-width="0.7"/>
<text transform="translate(485.30,608.00)" font-size="7.3" text-anchor="middle" fill="#1c1c1c">24</text>
<text transform="translate(411.80,557.90)" font-size="7.6" text-anchor="middle" fill="#1c1c1c">Time (months)</text>
<text transform="translate(411.80,617.60)" font-size="7.6" text-anchor="middle" fill="#1c1c1c">Time (months)</text>
<text transform="translate(411.50,567.00)" font-size="7.6" text-anchor="middle" fill="#1c1c1c">Number at risk (number censored)</text>
<text transform="translate(305.60,495.80) rotate(-90)" font-size="7.6" text-anchor="middle" fill="#1c1c1c">Progression–free survival</text>
<path d="M351.78,455.30 L351.78,485.83 L369.84,485.83 L369.84,498.52 L391.59,498.52 L391.59,511.26 L452.23,511.26 " fill="none" stroke="#d4605e" stroke-width="1.0" stroke-linejoin="miter"/>
<line x1="358.51" y1="484.33" x2="358.51" y2="487.33" stroke="#d4605e" stroke-width="0.6"/>
<line x1="440.59" y1="509.76" x2="440.59" y2="512.76" stroke="#d4605e" stroke-width="0.6"/>
<line x1="450.39" y1="509.76" x2="450.39" y2="512.76" stroke="#d4605e" stroke-width="0.6"/>
<path d="M338.30,455.30 L358.51,455.30 L358.51,468.87 L391.59,468.87 L391.59,482.43 L392.51,482.43 L392.51,496.00 L469.99,496.00 " fill="none" stroke="#52b0c2" stroke-width="1.0" stroke-linejoin="miter"/>
<line x1="418.54" y1="494.50" x2="418.54" y2="497.50" stroke="#52b0c2" stroke-width="0.6"/>
<line x1="423.13" y1="494.50" x2="423.13" y2="497.50" stroke="#52b0c2" stroke-width="0.6"/>
<line x1="469.99" y1="494.50" x2="469.99" y2="497.50" stroke="#52b0c2" stroke-width="0.6"/>
<text transform="translate(488.50,533.20)" font-size="7.6" text-anchor="end" fill="#1c1c1c"><tspan font-style="italic">P</tspan> = 0.32</text>
<path d="M346.2,443.4 H352.0 M349.1,442 V444.8" stroke="#d4605e" stroke-width="0.8" fill="none"/>
<path d="M421.0,443.4 H426.8 M423.9,442 V444.8" stroke="#52b0c2" stroke-width="0.8" fill="none"/>
<text transform="translate(355.00,445.70)" font-size="7.6" text-anchor="start" fill="#1c1c1c">SER–401 (<tspan font-style="italic">n</tspan> = 8)</text>
<text transform="translate(430.40,445.70)" font-size="7.6" text-anchor="start" fill="#1c1c1c">Placebo (<tspan font-style="italic">n</tspan> = 6)</text>
<path d="M331.3,574.4 V599.5 H491.8" fill="none" stroke="#3a3a3a" stroke-width="0.8"/>
<line x1="329.3" y1="581.0" x2="331.3" y2="581.0" stroke="#333" stroke-width="0.7"/>
<line x1="329.3" y1="592.0" x2="331.3" y2="592.0" stroke="#333" stroke-width="0.7"/>
<text transform="translate(325.90,583.30)" font-size="7.6" text-anchor="end" fill="#d77472">SER–401 (<tspan font-style="italic">n</tspan> = 8)</text>
<text transform="translate(325.90,594.20)" font-size="7.6" text-anchor="end" fill="#9fd0d8">Placebo (<tspan font-style="italic">n</tspan> = 6)</text>
<text transform="translate(336.10,583.30)" font-size="7.6" text-anchor="start" fill="#1c1c1c">8 (0)</text>
<text transform="translate(372.85,583.30)" font-size="7.6" text-anchor="start" fill="#1c1c1c">3 (1)</text>
<text transform="translate(409.60,583.30)" font-size="7.6" text-anchor="start" fill="#1c1c1c">2 (1)</text>
<text transform="translate(446.35,583.30)" font-size="7.6" text-anchor="start" fill="#1c1c1c">1 (2)</text>
<text transform="translate(483.10,583.30)" font-size="7.6" text-anchor="start" fill="#1c1c1c">0 (3)</text>
<text transform="translate(336.10,594.20)" font-size="7.6" text-anchor="start" fill="#1c1c1c">6 (0)</text>
<text transform="translate(372.85,594.20)" font-size="7.6" text-anchor="start" fill="#1c1c1c">5 (0)</text>
<text transform="translate(409.60,594.20)" font-size="7.6" text-anchor="start" fill="#1c1c1c">3 (0)</text>
<text transform="translate(446.35,594.20)" font-size="7.6" text-anchor="start" fill="#1c1c1c">1 (2)</text>
<text transform="translate(483.10,594.20)" font-size="7.6" text-anchor="start" fill="#1c1c1c">0 (3)</text>
</svg>
</body></html>
